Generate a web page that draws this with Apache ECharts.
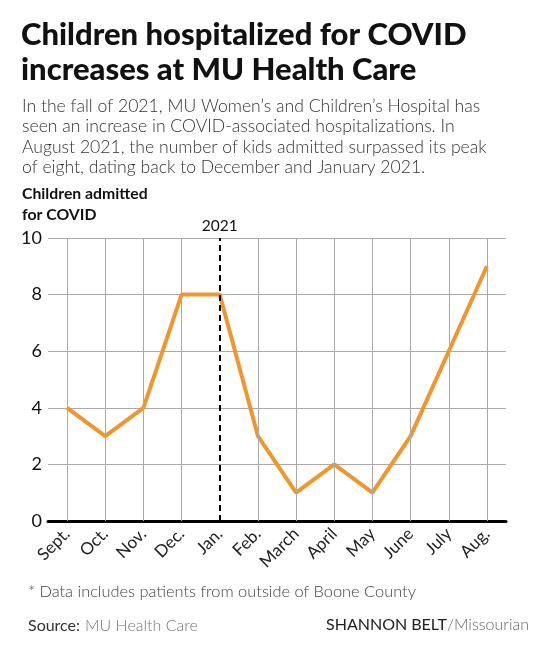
<!DOCTYPE html>
<html><head><meta charset="utf-8">
<script src="https://cdn.jsdelivr.net/npm/echarts@6/dist/echarts.min.js"></script>
<style>html,body{margin:0;padding:0;background:#fff}#c{width:547px;height:649px}</style>
</head><body><div id="c"></div>
<script>
const categories = ['Sept.','Oct.','Nov.','Dec.','Jan.','Feb.','March','April','May','June','July','Aug.'];
const admitted = [4,3,4,8,8,3,1,2,1,3,6,9];
const yearMarker = 'Jan.';
const yearLabel = '2021';

const chart = echarts.init(document.getElementById('c'));
const F = 'Lato, "Noto Sans", sans-serif';
chart.setOption({
  animation:false,
  backgroundColor:'#fff',
  title:[
    {text:'Children hospitalized for COVID\nincreases at MU Health Care', left:16, top:12,
     textStyle:{fontFamily:F, fontWeight:900, fontSize:31, lineHeight:35, color:'#111'}},
    {text:'In the fall of 2021, MU Women\u2019s and Children\u2019s Hospital has\nseen an increase in COVID-associated hospitalizations. In\nAugust 2021, the number of kids admitted surpassed its peak\nof eight, dating back to December and January 2021.',
     left:17, top:91, textStyle:{fontFamily:F, fontWeight:300, fontSize:17.6, lineHeight:20.5, color:'#333'}},
    {text:'Children admitted\nfor COVID', left:17, top:178,
     textStyle:{fontFamily:F, fontWeight:'bold', fontSize:15.8, lineHeight:21, color:'#111'}},
    {text:'* Data includes patients from outside of Boone County', left:23, top:579,
     textStyle:{fontFamily:F, fontWeight:300, fontSize:16.4, color:'#444'}},
    {text:'{a|Source:} {b|MU Health Care}', left:23, top:612,
     textStyle:{rich:{a:{fontFamily:F, fontWeight:'normal', fontSize:16, color:'#333'}, b:{fontFamily:F, fontWeight:300, fontSize:16, color:'#777'}}}},
    {text:'{a|SHANNON BELT}{b|/Missourian}', right:13, top:612,
     textStyle:{rich:{a:{fontFamily:F, fontWeight:'normal', fontSize:16, color:'#222'}, b:{fontFamily:F, fontWeight:300, fontSize:16, color:'#666'}}}}
  ],
  grid:{left:48, right:41, top:238, bottom:128},
  xAxis:{type:'category', data:categories, boundaryGap:true,
    axisLine:{lineStyle:{color:'#000', width:3}},
    axisTick:{show:false},
    splitLine:{show:false},
    axisLabel:{rotate:45, fontFamily:F, fontSize:17, color:'#222', margin:10, interval:0}},
  yAxis:{type:'value', min:0, max:10, interval:2,
    axisLine:{show:false}, axisTick:{show:false},
    splitLine:{lineStyle:{color:'#aaa', width:1}},
    axisLabel:{fontFamily:F, fontSize:18, color:'#111', margin:6}},
  series:[
    {type:'line', data:admitted, symbol:'none', lineStyle:{color:'#F0962E', width:4}, z:3},
    {type:'line', data:[], silent:true,
      markLine:{symbol:'none', silent:true, label:{show:false},
        lineStyle:{color:'#aaa', width:1, type:'solid'},
        data:categories.filter(c=>c!==yearMarker).map(c=>({xAxis:c}))}},
    {type:'line', data:[], silent:true, z:4,
      markLine:{symbol:'none', silent:true,
        lineStyle:{color:'#000', width:2, type:[6,4]},
        label:{show:true, position:'end', formatter:yearLabel, fontFamily:F, fontSize:15.5, color:'#111', distance:4},
        data:[{xAxis:yearMarker}]}}
  ]
});
</script></body></html>
